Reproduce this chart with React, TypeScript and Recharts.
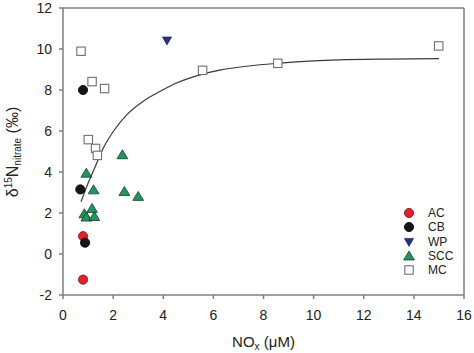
import { ComposedChart, Scatter, XAxis, YAxis, ReferenceLine } from 'recharts';

// NOx (µM) vs d15N nitrate, by site
const acPoints = [
  { x: 0.8, y: 0.87 },
  { x: 0.8, y: -1.25 }
];
const cbPoints = [
  { x: 0.8, y: 8.0 },
  { x: 0.69, y: 3.15 },
  { x: 0.88, y: 0.55 }
];
const wpPoints = [{ x: 4.15, y: 10.41 }];
const sccPoints = [
  { x: 0.93, y: 3.94 },
  { x: 1.22, y: 3.13 },
  { x: 2.37, y: 4.84 },
  { x: 2.45, y: 3.05 },
  { x: 3.0, y: 2.81 },
  { x: 1.16, y: 2.22 },
  { x: 0.85, y: 1.96 },
  { x: 0.93, y: 1.8 },
  { x: 1.25, y: 1.83 }
];
const mcPoints = [
  { x: 0.72, y: 9.89 },
  { x: 1.16, y: 8.41 },
  { x: 1.66, y: 8.07 },
  { x: 1.01, y: 5.58 },
  { x: 1.3, y: 5.15 },
  { x: 1.37, y: 4.81 },
  { x: 5.57, y: 8.96 },
  { x: 8.57, y: 9.3 },
  { x: 14.99, y: 10.15 }
];
// fitted curve
const fitCurve = [
  { x: 0.72, y: 2.55 },
  { x: 1.0, y: 3.45 },
  { x: 1.22, y: 4.07 },
  { x: 1.62, y: 5.2 },
  { x: 2.02, y: 6.0 },
  { x: 2.55, y: 6.8 },
  { x: 3.2, y: 7.45 },
  { x: 3.9, y: 7.95 },
  { x: 4.55, y: 8.35 },
  { x: 5.5, y: 8.75 },
  { x: 6.3, y: 8.98 },
  { x: 7.4, y: 9.17 },
  { x: 8.55, y: 9.3 },
  { x: 10, y: 9.42 },
  { x: 11, y: 9.47 },
  { x: 13, y: 9.51 },
  { x: 15, y: 9.53 }
];
const xTicks = [0, 2, 4, 6, 8, 10, 12, 14, 16];
const yTicks = [-2, 0, 2, 4, 6, 8, 10, 12];
const seriesNames = ['AC', 'CB', 'WP', 'SCC', 'MC'];

const FONT = '"Liberation Sans", Arial, sans-serif';
const AXIS = '#7f7f7f';

function Marker({ kind, cx, cy }: { kind: string; cx: number; cy: number }) {
  if (kind === 'AC') return <circle cx={cx} cy={cy} r={4.6} fill="#e5202a" stroke="#6b1a1a" strokeWidth={0.8} />;
  if (kind === 'CB') return <circle cx={cx} cy={cy} r={4.6} fill="#161616" stroke="#000" strokeWidth={0.8} />;
  if (kind === 'WP')
    return <path d={`M${cx - 4.6},${cy - 3.6} L${cx + 4.6},${cy - 3.6} L${cx},${cy + 4.4} Z`} fill="#2a2c86" stroke="#15174a" strokeWidth={0.6} />;
  if (kind === 'SCC')
    return <path d={`M${cx},${cy - 5} L${cx + 5.4},${cy + 4} L${cx - 5.4},${cy + 4} Z`} fill="#1f9a55" stroke="#123" strokeWidth={0.7} />;
  return <rect x={cx - 4.2} y={cy - 4.2} width={8.4} height={8.4} fill="#fff" stroke="#707070" strokeWidth={1.1} />;
}

const shapeFor = (kind: string) => (p: any) => <Marker kind={kind} cx={p.cx} cy={p.cy} />;

function LegendBox() {
  return (
    <div style={{ position: 'absolute', left: 402, top: 206, fontFamily: FONT, fontSize: 12, lineHeight: '14.3px', color: '#222' }}>
      {seriesNames.map((n) => (
        <div key={n} style={{ display: 'flex', alignItems: 'center', height: 14.3 }}>
          <svg width={14} height={14} style={{ marginRight: 12 }}>
            <Marker kind={n} cx={7} cy={7} />
          </svg>
          <span>{n}</span>
        </div>
      ))}
    </div>
  );
}

export default function App() {
  return (
    <div style={{ position: 'absolute', left: 0, top: 0, width: 474, height: 353, background: '#fff' }}>
      <ComposedChart width={474} height={353} margin={{ top: 8, right: 10, left: 0, bottom: 0 }}>
        <XAxis
          type="number"
          dataKey="x"
          domain={[0, 16]}
          ticks={xTicks}
          allowDataOverflow
          height={58}
          stroke={AXIS}
          strokeWidth={1.5}
          tickSize={4}
          tickMargin={11}
          tick={{ fontSize: 14, fill: '#222', fontFamily: FONT }}
          label={(props: any) => {
            const vb = props.viewBox;
            return (
              <text x={vb.x + vb.width / 2} y={347} textAnchor="middle" fontSize={15} fill="#222" fontFamily={FONT}>
                NO<tspan dy={3} fontSize={10}>x</tspan>
                <tspan dy={-3}> (μM)</tspan>
              </text>
            );
          }}
        />
        <YAxis
          type="number"
          dataKey="y"
          domain={[-2, 12]}
          ticks={yTicks}
          allowDataOverflow
          width={63}
          stroke={AXIS}
          strokeWidth={1.5}
          tickSize={4}
          tickMargin={7}
          tick={{ fontSize: 14, fill: '#222', fontFamily: FONT }}
          label={() => (
            <text transform="rotate(-90, 18, 152)" x={18} y={152} textAnchor="middle" fontSize={16} fill="#222" fontFamily={FONT}>
              δ<tspan dy={-6} fontSize={10}>15</tspan>
              <tspan dy={6}>N</tspan>
              <tspan dy={3} fontSize={10}>nitrate</tspan>
              <tspan dy={-3}> (‰)</tspan>
            </text>
          )}
        />
        <ReferenceLine y={12} stroke={AXIS} strokeWidth={1.5} />
        <ReferenceLine x={16} stroke={AXIS} strokeWidth={1.5} />
        <Scatter
          name="fit"
          data={fitCurve}
          line={{ stroke: '#3a3a3a', strokeWidth: 1.2 }}
          lineJointType="monotoneX"
          shape={() => <g />}
          legendType="none"
          isAnimationActive={false}
        />
        <Scatter name="AC" data={acPoints} shape={shapeFor('AC')} isAnimationActive={false} />
        <Scatter name="CB" data={cbPoints} shape={shapeFor('CB')} isAnimationActive={false} />
        <Scatter name="WP" data={wpPoints} shape={shapeFor('WP')} isAnimationActive={false} />
        <Scatter name="SCC" data={sccPoints} shape={shapeFor('SCC')} isAnimationActive={false} />
        <Scatter name="MC" data={mcPoints} shape={shapeFor('MC')} isAnimationActive={false} />
      </ComposedChart>
      <LegendBox />
    </div>
  );
}
